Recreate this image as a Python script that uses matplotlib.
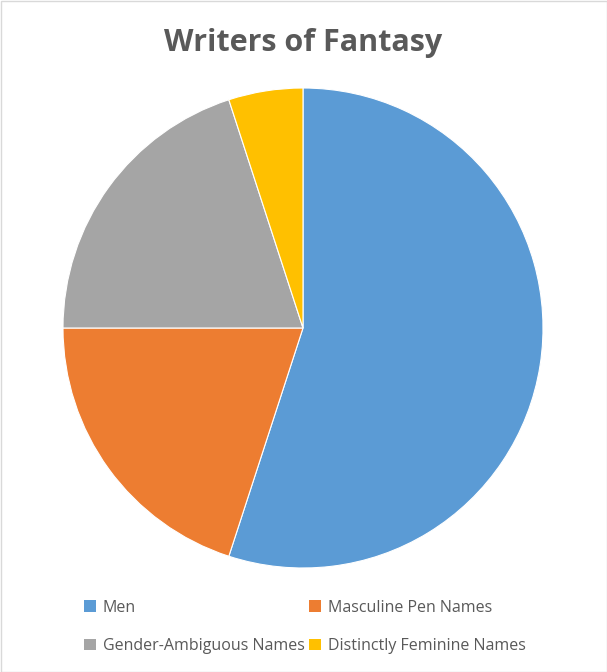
import matplotlib
matplotlib.use("Agg")
from matplotlib import pyplot as plt
from matplotlib.patches import Patch

labels = ["Men", "Masculine Pen Names", "Gender-Ambiguous Names", "Distinctly Feminine Names"]
shares = [55, 20, 20, 5]
colors = ["#5B9BD5", "#ED7D31", "#A5A5A5", "#FFC000"]

plt.rcParams["font.family"] = ["Open Sans", "DejaVu Sans"]

W, H = 607, 672
fig = plt.figure(figsize=(W / 100, H / 100), dpi=100, facecolor="white")

# pie centre (303, 328), radius 240 px
cx, cy, r = 303, 328, 240
ax = fig.add_axes([(cx - r) / W, 1 - (cy + r) / H, 2 * r / W, 2 * r / H])
ax.pie(shares, colors=colors, startangle=90, counterclock=False,
       wedgeprops=dict(edgecolor="white", linewidth=0.8))
ax.set_aspect("equal")
ax.set_xlim(-1, 1)
ax.set_ylim(-1, 1)
ax.axis("off")

fig.text(303 / W, 1 - 43 / H, "Writers of Fantasy", ha="center", va="center",
         fontsize=22, fontweight="bold", color="#595959")

# legend fills row by row in the reference, matplotlib fills by column
order = [0, 2, 1, 3]
handles = [Patch(facecolor=colors[i], edgecolor="none") for i in order]
leg = fig.legend(handles, [labels[i] for i in order], ncol=2, loc="center",
                 bbox_to_anchor=(305 / W, 1 - 627 / H), frameon=False,
                 fontsize=11.5, handlelength=0.75, handleheight=0.75,
                 handletextpad=0.4, columnspacing=0.3, labelspacing=1.4,
                 labelcolor="#595959")

# light border round the chart area
fig.add_artist(plt.Rectangle((0.5 / W, 0.5 / H), 1 - 1 / W, 1 - 1 / H,
                             transform=fig.transFigure, fill=False,
                             edgecolor="#D9D9D9", linewidth=1))

fig.savefig("out.png", dpi=100, facecolor="white")
